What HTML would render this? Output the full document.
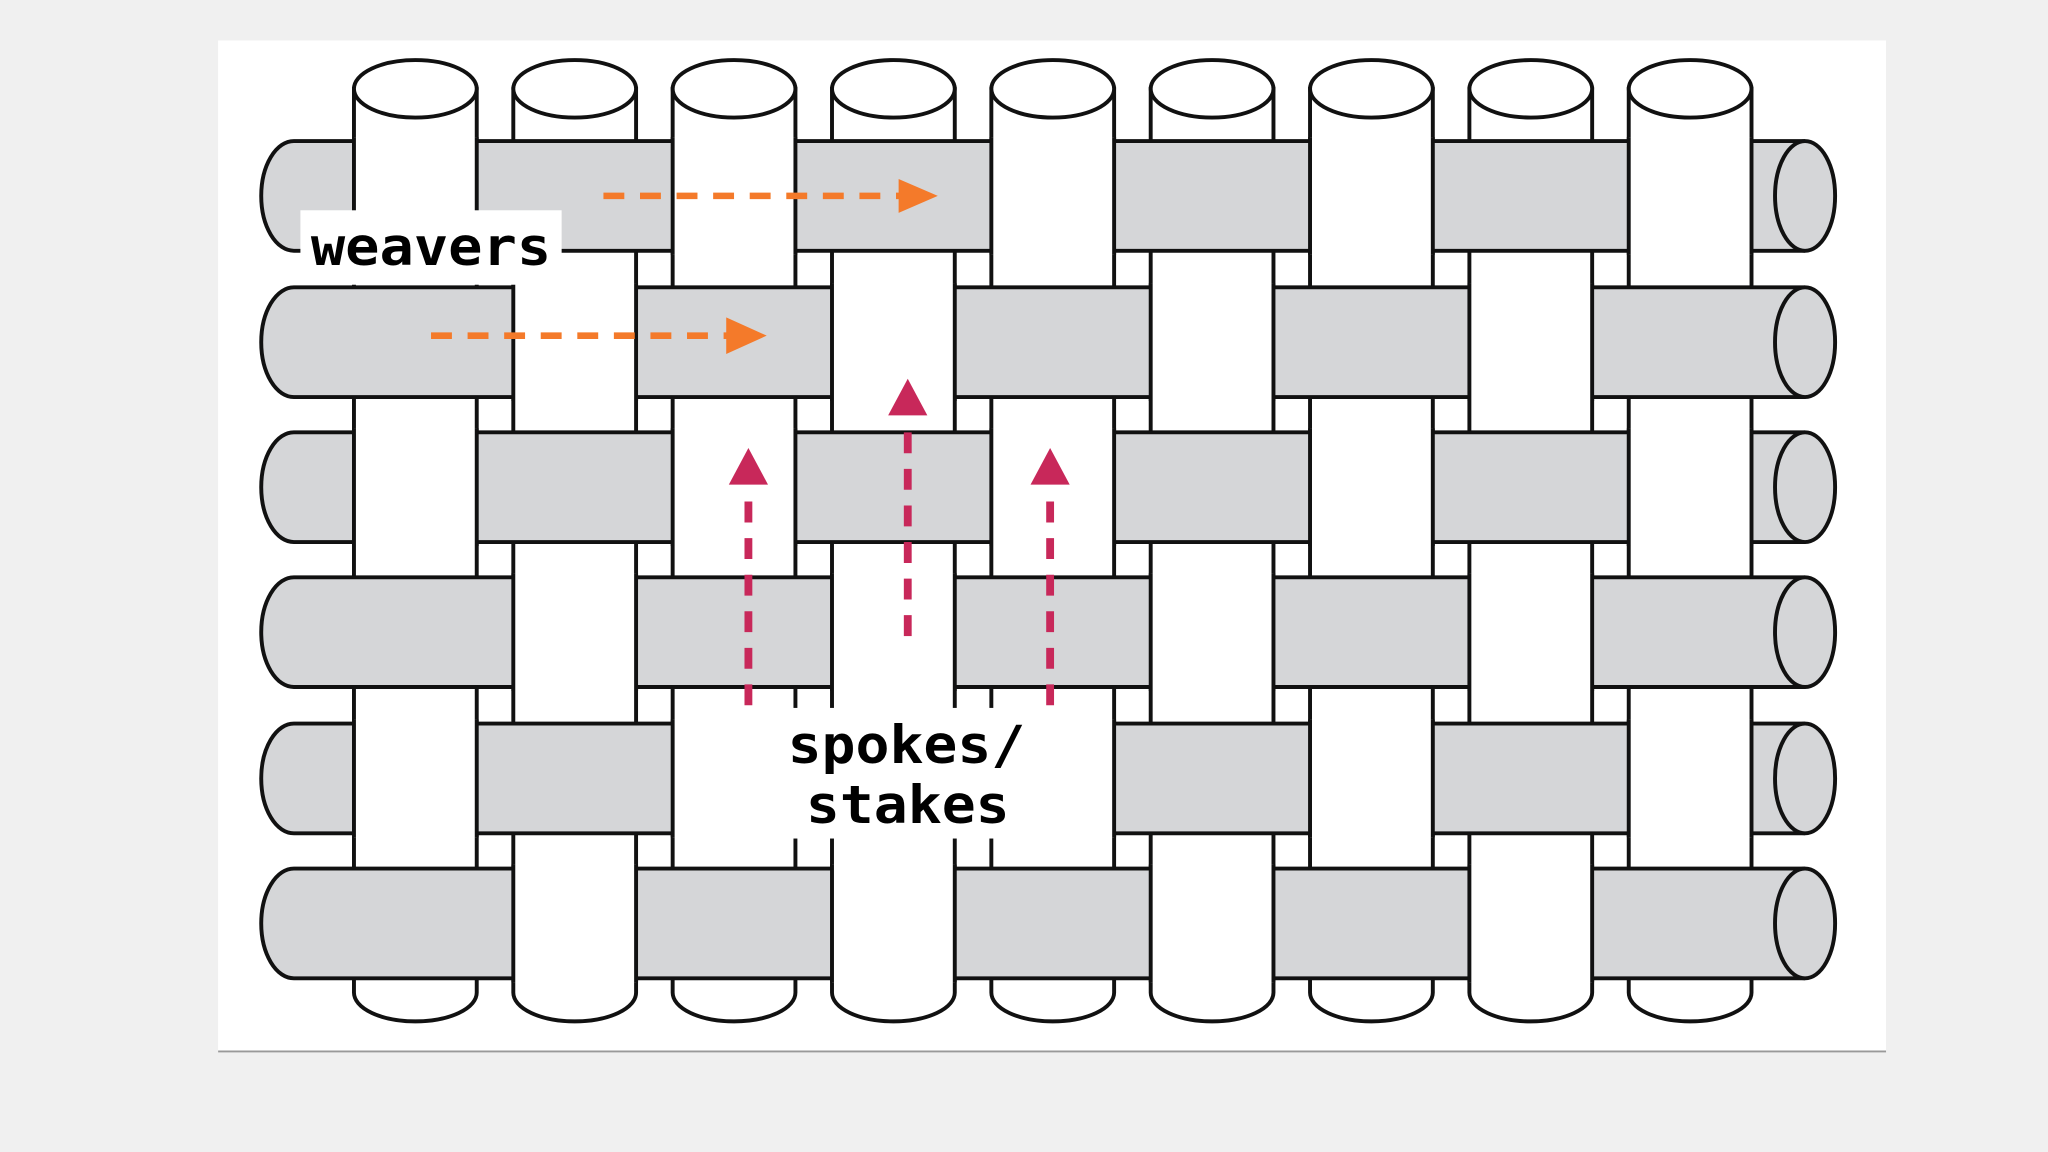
<!DOCTYPE html>
<html><head><style>
html,body{margin:0;padding:0;background:#f0f0f0;}
svg{display:block}
</style></head><body>
<svg width="2048" height="1152" viewBox="0 0 1568 882" preserveAspectRatio="none" xmlns="http://www.w3.org/2000/svg">
<rect x="0" y="0" width="1568" height="882" fill="#f0f0f0"/>
<rect x="167" y="31" width="1277" height="774" fill="#ffffff"/>
<line x1="167" y1="805" x2="1444" y2="805" stroke="#999" stroke-width="1.5"/>
<g id="all" stroke="#111" stroke-width="3" fill="#fff"></g>
<script>
var ns="http://www.w3.org/2000/svg",g=document.getElementById('all');
function el(t,a){var e=document.createElementNS(ns,t);for(var k in a)e.setAttribute(k,a[k]);g.appendChild(e);return e;}
var sx=[318,440,562,684,806,928,1050,1172,1294],hw=47;
var rows=[150,262,373,484,596,707],hh=42;
sx.forEach(function(c){
 el('path',{d:'M'+(c-hw)+' 68 L'+(c-hw)+' 760 A'+hw+' 22 0 0 0 '+(c+hw)+' 760 L'+(c+hw)+' 68 Z',fill:'#fff'});
 el('ellipse',{cx:c,cy:68,rx:hw,ry:22,fill:'#fff'});
});
rows.forEach(function(y,ri){
 var t=y-hh,b=y+hh;
 el('path',{d:'M1382 '+t+' L225 '+t+' A25 '+hh+' 0 0 0 225 '+b+' L1382 '+b,fill:'#d5d6d8'});
 el('ellipse',{cx:1382,cy:y,rx:23,ry:hh,fill:'#d5d6d8'});
 sx.forEach(function(c,si){
  var over=(ri%2==0)?(si%2==0):(si%2==1);
  if(over){
   el('rect',{x:c-hw,y:t-3,width:hw*2,height:hh*2+6,fill:'#fff',stroke:'none'});
   el('line',{x1:c-hw,y1:t-3,x2:c-hw,y2:b+3});
   el('line',{x1:c+hw,y1:t-3,x2:c+hw,y2:b+3});
  }
 });
});
el('rect',{x:230,y:161,width:200,height:57,fill:'#fff',stroke:'none'});
el('rect',{x:536,y:542,width:314,height:100,fill:'#fff',stroke:'none'});
function txt(x,y,s,size,len){var e=el('text',{x:x,y:y,'font-family':"'DejaVu Sans Mono', 'Liberation Mono', monospace",'font-weight':'bold','font-size':size,fill:'#000',stroke:'none',textLength:len,lengthAdjust:'spacingAndGlyphs'});e.textContent=s;}
txt(238,203,'weavers',40,184);
txt(603,584,'spokes/',40,182);
txt(617,630,'stakes',40,156);
var o='#f47a2a',p='#c8285a';
el('line',{x1:462,y1:150,x2:690,y2:150,stroke:o,'stroke-width':5,'stroke-dasharray':'16 12'});
el('polygon',{points:'688,137 718,150 688,163',fill:o,stroke:'none'});
el('line',{x1:330,y1:257,x2:558,y2:257,stroke:o,'stroke-width':5,'stroke-dasharray':'16 12'});
el('polygon',{points:'556,243 587,257 556,271',fill:o,stroke:'none'});
[[573,540,343],[695,487,290],[804,540,343]].forEach(function(a){
 el('line',{x1:a[0],y1:a[1],x2:a[0],y2:a[2]+36,stroke:p,'stroke-width':6,'stroke-dasharray':'16 12'});
 el('polygon',{points:(a[0]-15)+','+(a[2]+28)+' '+a[0]+','+a[2]+' '+(a[0]+15)+','+(a[2]+28),fill:p,stroke:'none'});
});
</script>
</svg>
</body></html>
